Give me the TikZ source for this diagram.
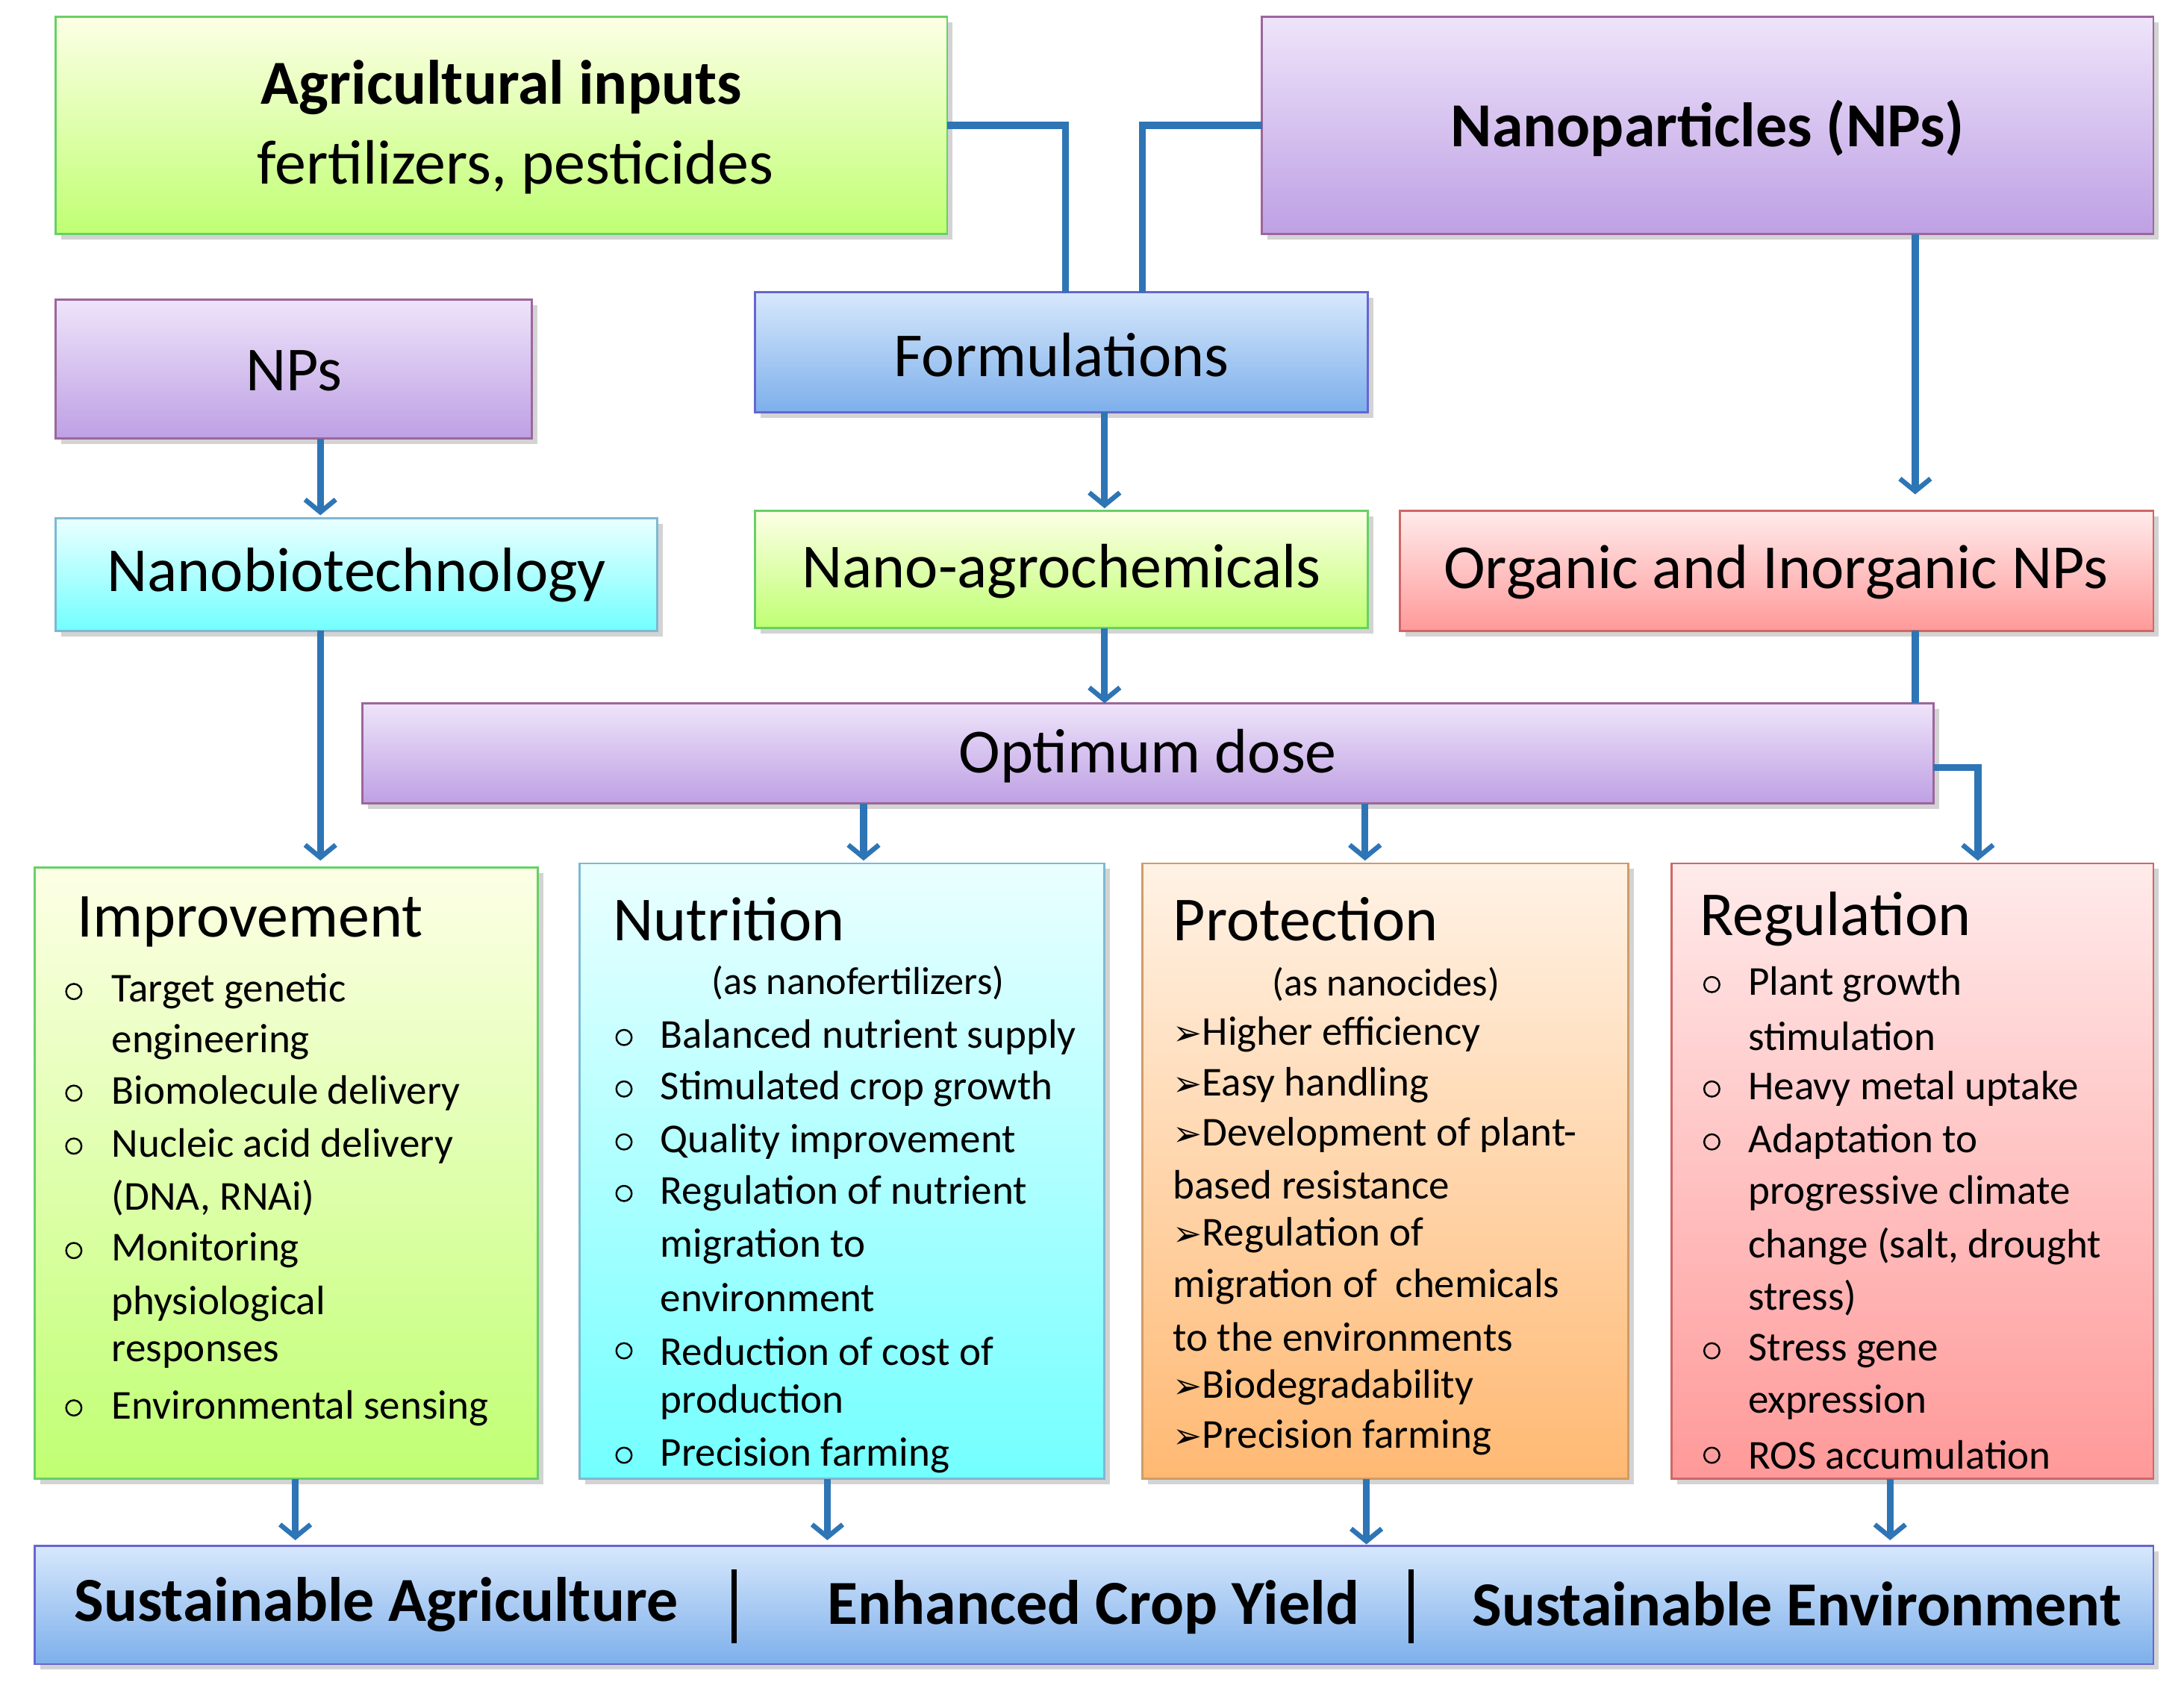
\documentclass[tikz,border=0pt]{standalone}
\usepackage{fontspec}
\setmainfont{Carlito}
\newfontfamily\dv{DejaVu Sans}
\usetikzlibrary{shadows,arrows.meta}
\definecolor{ln}{RGB}{46,117,182}
\definecolor{puT}{RGB}{238,228,250}
\definecolor{puB}{RGB}{190,160,228}
\definecolor{blT}{RGB}{215,232,252}
\definecolor{blB}{RGB}{125,175,235}
\tikzset{
 bx/.style={draw=#1!70!black!60, line width=1.5pt, drop shadow={opacity=0.35,shadow xshift=4pt,shadow yshift=-4pt}},
 gr/.style={bx=green, top color=green!8!yellow!10, bottom color=green!45!yellow!55!white},
 pu/.style={bx=violet, top color=puT, bottom color=puB},
 bl/.style={bx=blue, top color=blT, bottom color=blB},
 cy/.style={bx=cyan, top color=cyan!8, bottom color=cyan!55},
 rd/.style={bx=red, top color=red!8, bottom color=red!40},
 og/.style={bx=orange, top color=orange!10, bottom color=orange!55},
 con/.style={draw=ln, line width=5pt},
 arr/.style={con, -{Straight Barb[length=9pt,width=22pt,line width=3.5pt]}},
 big/.style={font=\fontsize{45}{48}\selectfont},
 it/.style={anchor=west, font=\fontsize{29.5}{31}\selectfont, inner sep=0pt},
 sm/.style={font=\fontsize{28}{30}\selectfont, inner sep=0pt},
 hd/.style={anchor=west, font=\fontsize{45}{48}\selectfont, inner sep=0pt},
 bb/.style={font=\fontsize{45}{48}\selectfont\bfseries},
}
\newcommand\arh{{\dv\fontsize{25}{26}\selectfont ➢}}
\begin{document}
\begin{tikzpicture}[x=1pt,y=-1pt]
\useasboundingbox (0,0) rectangle (1568,1216);
% boxes
\path[gr] (40,12) rectangle (680,168);
\path[pu] (906,12) rectangle (1546,168);
\path[pu] (40,215) rectangle (382,315);
\path[bl] (542,210) rectangle (982,296);
\path[cy] (40,372) rectangle (472,453);
\path[gr] (542,367) rectangle (982,451);
\path[rd] (1005,367) rectangle (1546,453);
\path[pu] (260,505) rectangle (1388,577);
\path[gr] (25,623) rectangle (386,1062);
\path[cy] (416,620) rectangle (793,1062);
\path[og] (820,620) rectangle (1169,1062);
\path[rd] (1200,620) rectangle (1546,1062);
\path[bl] (25,1110) rectangle (1546,1195);
% texts
\node (agri) at (360,63) [bb] {Agricultural inputs};
\node (agri2) at (370,120) [big] {fertilizers, pesticides};
\node (np) at (1226,92) [bb] {Nanoparticles (NPs)};
\node (nps) at (211,266) [big] {NPs};
\node (form) at (762,255) [big] {Formulations};
\node (nbt) at (256,413) [big] {Nanobiotechnology};
\node (nag) at (762,410) [big] {Nano-agrochemicals};
\node (oin) at (1275,411) [big] {Organic and Inorganic NPs};
\node (opt) at (824,543) [big] {Optimum dose};
% connectors
\draw[con] (680,90) -- (765,90) -- (765,210);
\draw[con] (906,90) -- (820,90) -- (820,210);
\draw[arr] (1375,168) -- (1375,355);
\draw[arr] (230,315) -- (230,370);
\draw[arr] (793,296) -- (793,365);
\draw[arr] (793,451) -- (793,505);
\draw[con] (1375,453) -- (1375,505);
\draw[arr] (1388,551) -- (1420,551) -- (1420,618);
\draw[arr] (230,453) -- (230,618);
\draw[arr] (620,577) -- (620,618);
\draw[arr] (980,577) -- (980,618);
\draw[arr] (212,1062) -- (212,1106);
\draw[arr] (594,1062) -- (594,1106);
\draw[arr] (981,1062) -- (981,1109);
\draw[arr] (1357,1062) -- (1357,1106);
% Improvement
\node[hd] at (55,662) {Improvement};
\foreach \y/\t/\b in {712/Target genetic/1,748/engineering/0,785/Biomolecule delivery/1,823/Nucleic acid delivery/1,860/{(DNA, RNAi)}/0,898/Monitoring/1,936/physiological/0,973/responses/0,1011/Environmental sensing/1}{
 \node[it] at (80,\y) {\t};
 \ifnum\b=1 \draw[line width=1.3pt] (53,\y) circle (5.5pt);\fi}
% Nutrition
\node[hd] at (440,660) {Nutrition};
\node[sm] at (616,706) {(as nanofertilizers)};
\foreach \y/\t/\b in {745/Balanced nutrient supply/1,782/Stimulated crop growth/1,820/Quality improvement/1,857/Regulation of nutrient/1,895/migration to/0,932/environment/0,970/Reduction of cost of/1,1007/production/0,1045/Precision farming/1}{
 \node[it] at (474,\y) {\t};
 \ifnum\b=1 \draw[line width=1.3pt] (448,\y) circle (5.5pt);\fi}
% Protection
\node[hd] at (842,660) {Protection};
\node[sm] at (995,707) {(as nanocides)};
\foreach \y/\t in {743/{\arh Higher efficiency},779/{\arh Easy handling},815/{\arh Development of plant-},851/based resistance,887/{\arh Regulation of},924/migration of \ chemicals,960/to the environments,996/{\arh Biodegradability},1032/{\arh Precision farming}}{
 \node[it] at (842,\y) {\t};}
% Regulation
\node[hd] at (1220,660) {Regulation};
\foreach \y/\t/\b in {707/Plant growth/1,744/stimulation/0,782/Heavy metal uptake/1,820/Adaptation to/1,857/progressive climate/0,895/{change (salt, drought}/0,932/{stress)}/0,970/Stress gene/1,1007/expression/0,1045/ROS accumulation/1}{
 \node[it] at (1255,\y) {\t};
 \ifnum\b=1 \draw[line width=1.3pt] (1229,\y) circle (5.5pt);\fi}
% bottom
\node (sa) at (270,1152) [bb] {Sustainable Agriculture};
\node (ecy) at (785,1154) [bb] {Enhanced Crop Yield};
\node (se) at (1290,1152) [bb] {Sustainable Environment};
\draw[line width=4pt] (527,1127) -- (527,1180);
\draw[line width=4pt] (1013,1127) -- (1013,1180);
\end{tikzpicture}
\end{document}
